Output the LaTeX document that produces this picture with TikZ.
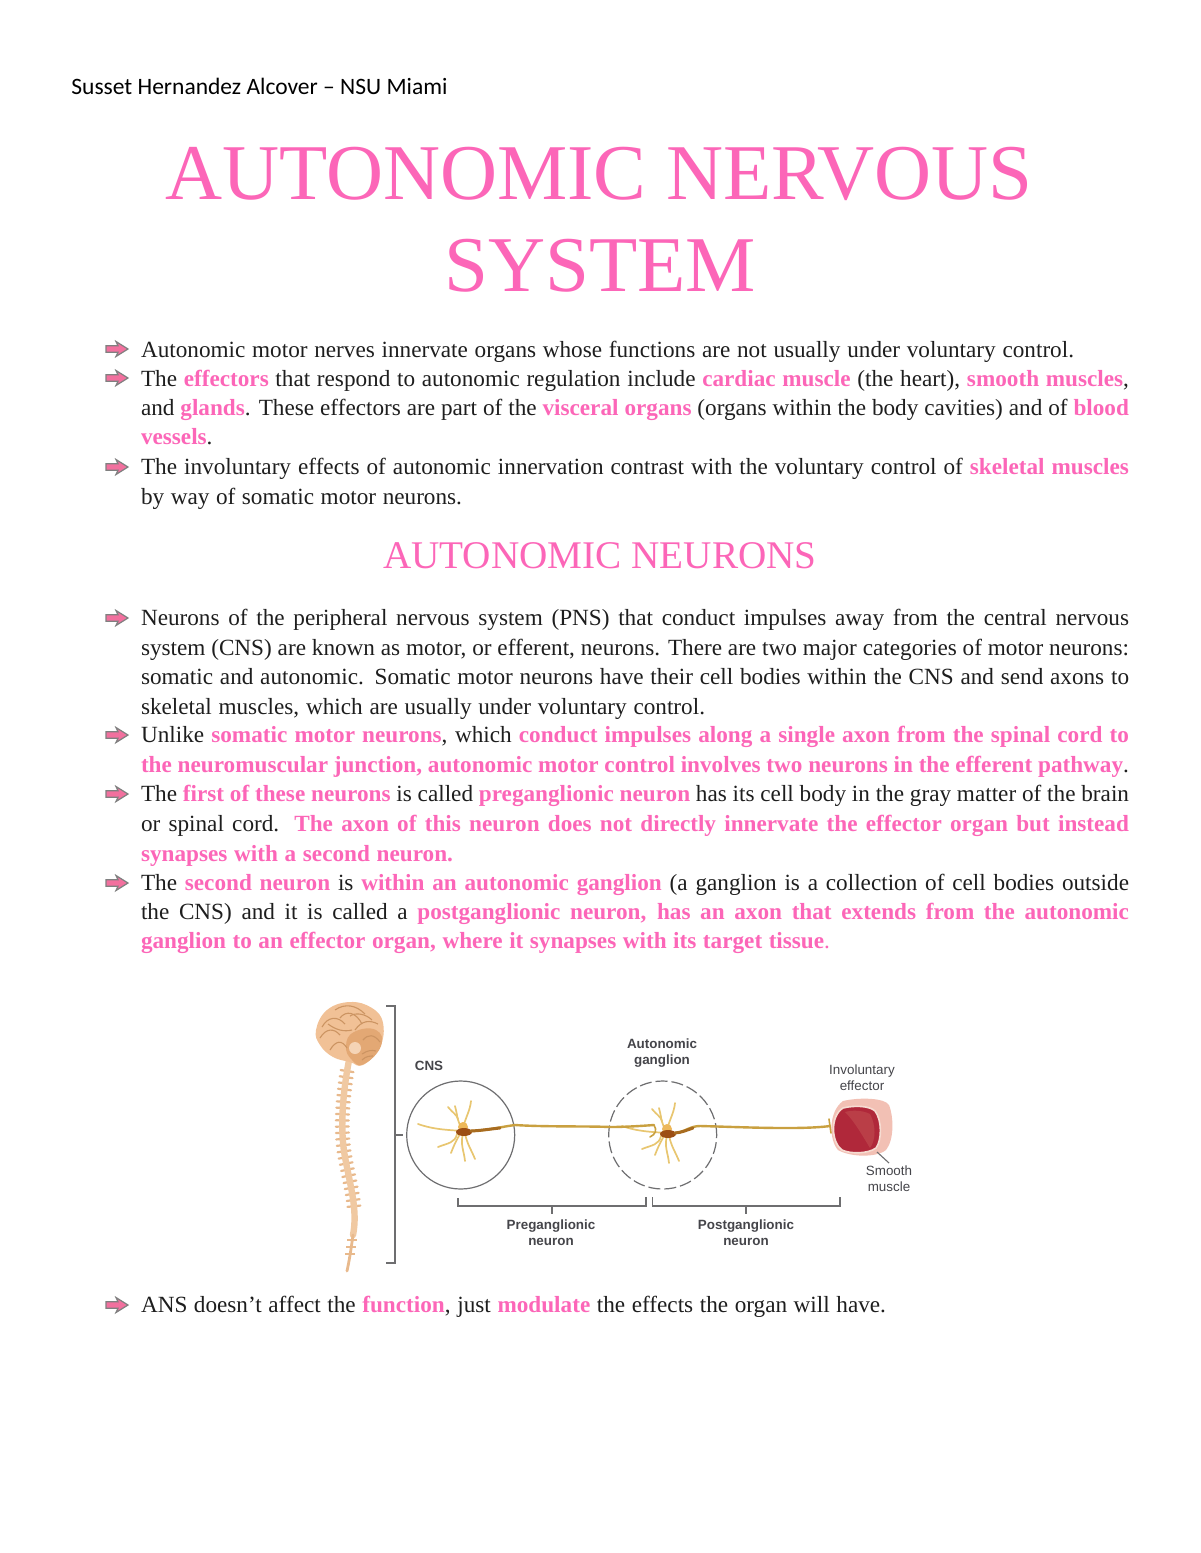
\documentclass[tikz,border=0pt]{standalone}
\usepackage{fontspec}
\setmainfont{Liberation Serif}
\newfontfamily\hdfont{Carlito}
\newfontfamily\lblfont{Liberation Sans}
\usetikzlibrary{decorations.markings}
\definecolor{pinkc}{HTML}{FC66B8}
\definecolor{bodyc}{HTML}{1E1E1E}
\definecolor{lblc}{HTML}{45454A}
\definecolor{linec}{HTML}{6E6E70}
\definecolor{axonc}{HTML}{C9A040}
\definecolor{axondark}{HTML}{A86C20}
\definecolor{dendc}{HTML}{E8C670}
\definecolor{somac}{HTML}{9C4E14}
\definecolor{brainc}{HTML}{F1C196}
\definecolor{brainlo}{HTML}{E3A874}
\definecolor{gyric}{HTML}{CC9462}
\definecolor{cordc}{HTML}{F0C9A2}
\definecolor{stubc}{HTML}{E8B98C}
\definecolor{ringc}{HTML}{F2C0B4}
\definecolor{lumenc}{HTML}{B0283A}
\definecolor{lumenhi}{HTML}{C85A58}
\definecolor{lumenedge}{HTML}{F6DCD2}
\definecolor{arrowc}{HTML}{F2709E}
\newcommand{\pk}[1]{\textcolor{pinkc}{\bfseries #1}}
\newcommand{\pn}[1]{\textcolor{pinkc}{#1}}
\newcommand{\tline}[4]{\node[textline] (#1) at (141,#2) {\makebox[\dimexpr#3pt/2\relax][s]{#4}};}
\tikzset{
  textline/.style={anchor=base west,inner sep=0pt,outer sep=0pt,text=bodyc,font=\fontsize{11.6}{14}\selectfont},
  titletext/.style={anchor=base,inner sep=0pt,text=pinkc,font=\fontsize{39.5}{46}\selectfont},
  subtitle/.style={anchor=base,inner sep=0pt,text=pinkc,font=\fontsize{19.6}{22}\selectfont},
  lbl/.style={align=center,inner sep=0pt,text=lblc,font=\lblfont\fontsize{6.7}{8}\selectfont},
  lblb/.style={lbl,font=\lblfont\bfseries\fontsize{6.7}{8}\selectfont},
  bracketline/.style={draw=linec,line width=0.55pt},
  gyrus/.style={draw=gyric,line width=0.55pt},
  axon/.style={draw=axonc,line width=1.2pt,line cap=round,line join=round},
  dendrite/.style={draw=dendc,line width=0.85pt,line cap=round},
  ringnode/.style={circle,draw=linec,line width=0.6pt,minimum size=54pt,inner sep=0pt},
  bulletarrow/.pic={
    \path[draw=black!50,line width=0.6pt,fill=arrowc]
      (-11,-3.2)--(1,-3.2)--(-1,-7.5)--(11,0)--(-1,7.5)--(1,3.2)--(-11,3.2)--cycle;
  },
  neuron/.pic={
    \draw[dendrite] (-45,-7) .. controls (-28,-1) and (-12,-1) .. (0,0);
    \draw[dendrite] (-8,-25) .. controls (-5,-14) and (-6,-8) .. (0,-2);
    \draw[dendrite] (-15,-24) .. controls (-10,-18) and (-6,-16) .. (-5,-12);
    \draw[dendrite] (8,-30) .. controls (7,-20) and (3,-15) .. (0,-3);
    \draw[dendrite] (-25,16) .. controls (-15,12) and (-8,12) .. (-6,3);
    \draw[dendrite] (-12,22) .. controls (-9,14) and (-7,10) .. (-3,3);
    \draw[dendrite] (2,30) .. controls (1,20) and (-3,13) .. (0,3);
    \draw[dendrite] (12,28) .. controls (8,18) and (5,15) .. (2,3);
    \fill[dendc!80!orange] (0,-4) circle[radius=5];
    \fill[somac] (1,1) ellipse[x radius=8,y radius=4];
  }
}
\begin{document}
\begin{tikzpicture}[x=0.5pt,y=-0.5pt]
\useasboundingbox[fill=white] (0,0) rectangle (1200,1553);
\node[anchor=base west,inner sep=0pt,text=black,font=\hdfont\fontsize{11.75}{13}\selectfont] (header) at (71,94) {Susset Hernandez Alcover – NSU Miami};
\node[titletext] (title1) at (599,199) {AUTONOMIC NERVOUS};
\node[titletext] (title2) at (600,291) {SYSTEM};
\foreach \yy in {349,378,467,618,735,794,883,1305} \pic at (117,\yy) {bulletarrow};
\tline{a1}{357}{933}{Autonomic motor nerves innervate organs whose functions are not usually under voluntary control.}
\tline{a2}{386}{988}{The \pk{effectors} that respond to autonomic regulation include \pk{cardiac muscle} (the heart), \pk{smooth muscles},}
\tline{a3}{415}{988}{and \pk{glands}. These effectors are part of the \pk{visceral organs} (organs within the body cavities) and of \pk{blood}}
\tline{a4}{444}{68}{\pk{vessels}.}
\tline{a5}{474}{988}{The involuntary effects of autonomic innervation contrast with the voluntary control of \pk{skeletal muscles}}
\tline{a6}{504}{321}{by way of somatic motor neurons.}
\node[subtitle] (sub) at (600,568) {AUTONOMIC NEURONS};
\tline{b1}{625}{988}{Neurons of the peripheral nervous system (PNS) that conduct impulses away from the central nervous}
\tline{b2}{655}{988}{system (CNS) are known as motor, or efferent, neurons. There are two major categories of motor neurons:}
\tline{b3}{684}{988}{somatic and autonomic. Somatic motor neurons have their cell bodies within the CNS and send axons to}
\tline{b4}{714}{564}{skeletal muscles, which are usually under voluntary control.}
\tline{b5}{742}{988}{Unlike \pk{somatic motor neurons}, which \pk{conduct impulses along a single axon from the spinal cord to}}
\tline{b6}{772}{988}{\pk{the neuromuscular junction, autonomic motor control involves two neurons in the efferent pathway}.}
\tline{b7}{801}{988}{The \pk{first of these neurons} is called \pk{preganglionic neuron} has its cell body in the gray matter of the brain}
\tline{b8}{831}{988}{or spinal cord. \pk{The axon of this neuron does not directly innervate the effector organ but instead}}
\tline{b9}{861}{312}{\pk{synapses with a second neuron.}}
\tline{b10}{890}{988}{The \pk{second neuron} is \pk{within an autonomic ganglion} (a ganglion is a collection of cell bodies outside}
\tline{b11}{919}{988}{the CNS) and it is called a \pk{postganglionic neuron, has an axon that extends from the autonomic}}
\tline{b12}{948}{689}{\pk{ganglion to an effector organ, where it synapses with its target tissue}\pn{.}}
\tline{c1}{1312}{745}{ANS doesn’t affect the \pk{function}, just \pk{modulate} the effects the organ will have.}

% spinal cord
\coordinate (cordtop) at (350,1055);
\coordinate (cordend) at (347,1271);
\draw[cordc,line width=3.2pt,line cap=round,
  preaction={decorate,decoration={markings,mark=between positions 0.09 and 0.86 step 3.1pt with {
     \draw[stubc,line width=1.1pt,line cap=round] (0,-6.5)--(0,6.5);}}}]
  (cordtop) .. controls (344,1085) and (339,1125) .. (345,1157)
  .. controls (350,1185) and (358,1210) .. (353,1235);
\draw[stubc,line width=1.4pt,line cap=round] (353,1235) .. controls (351,1250) and (349,1262) .. (cordend);
\foreach \yy/\xx in {1240/352,1247/351,1254/350}{\draw[stubc,line width=0.7pt] (\xx-5,\yy) -- (\xx+5,\yy);}

% brain
\fill[brainc] plot[smooth cycle,tension=0.7] coordinates {(350,1002)(372,1008)(383,1023)(380,1047)(363,1065)(350,1062)(333,1057)(320,1045)(316,1030)(327,1010)};
\fill[brainlo] plot[smooth cycle,tension=0.8] coordinates {(354,1032)(376,1030)(381,1046)(364,1064)(352,1060)(346,1046)};
\fill[brainc!70!white] (355,1048) circle[radius=6];
\draw[gyrus] (322,1027) .. controls (328,1016) and (338,1016) .. (345,1024);
\draw[gyrus] (320,1038) .. controls (326,1028) and (334,1028) .. (340,1035);
\draw[gyrus] (330,1050) .. controls (336,1040) and (342,1040) .. (347,1048);
\draw[gyrus] (335,1010) .. controls (345,1003) and (356,1005) .. (365,1014);
\draw[gyrus] (340,1018) .. controls (346,1010) and (356,1012) .. (362,1024);
\draw[gyrus] (350,1016) .. controls (356,1012) and (366,1014) .. (372,1020);
\draw[gyrus] (328,1024) .. controls (336,1030) and (344,1032) .. (352,1030);
\draw[gyrus] (355,1030) .. controls (362,1020) and (370,1020) .. (378,1024);
\draw[gyrus] (363,1040) .. controls (368,1034) and (374,1034) .. (380,1042);
\draw[gyrus] (362,1054) .. controls (368,1050) and (372,1050) .. (376,1051);
\draw[gyrus] (362,1060) .. controls (366,1056) and (370,1056) .. (373,1056);

% big bracket
\coordinate (bt) at (386,1006);
\coordinate (bb) at (386,1263);
\coordinate (bm) at (395,1135);
\coordinate (bmt) at (403,1135);
\draw[bracketline] (bt) -- (395,1006) -- (395,1263) -- (bb);
\draw[bracketline] (bm) -- (bmt);

% circles
\node[ringnode] (cns) at (460.7,1135) {};
\node[ringnode,dash pattern=on 6pt off 2pt] (gang) at (662.7,1135) {};

% neurons
\pic at (463,1131) {neuron};
\pic at (667,1133) {neuron};

% effector
\path[fill=ringc] (843,1101) .. controls (860,1097) and (885,1098) .. (889,1105)
  .. controls (894,1118) and (894,1140) .. (886,1150)
  .. controls (876,1158) and (850,1157) .. (838,1150)
  .. controls (829,1140) and (828,1112) .. (843,1101) -- cycle;
\path[fill=lumenc,draw=lumenedge,line width=0.8pt] (843,1108) .. controls (855,1105) and (870,1106) .. (875,1111)
  .. controls (882,1120) and (882,1140) .. (876,1148)
  .. controls (868,1154) and (850,1154) .. (842,1150)
  .. controls (831,1142) and (830,1116) .. (843,1108) -- cycle;
\fill[lumenhi,opacity=0.45] (845,1112) .. controls (855,1122) and (862,1135) .. (870,1148) .. controls (876,1140) and (876,1125) .. (870,1114) .. controls (862,1110) and (852,1110) .. (845,1112) -- cycle;

% axons
\draw[axon] (471,1131) .. controls (490,1130) and (500,1127) .. (515,1125)
  .. controls (545,1127) and (590,1126) .. (610,1127) .. controls (625,1127) and (640,1126) .. (654,1125);
\draw[axon,draw=axondark,line width=1.5pt] (471,1131) .. controls (482,1130.5) and (490,1129) .. (500,1128);
\draw[axon,line width=0.8pt] (654,1125) .. controls (657,1130) and (656,1134) .. (650,1137);
\draw[axon] (675,1133) .. controls (685,1132) and (690,1126) .. (700,1126)
  .. controls (740,1127) and (800,1130) .. (830,1126);
\draw[axon,draw=axondark,line width=1.5pt] (675,1133) .. controls (682,1132.5) and (687,1130) .. (693,1128);
\draw[axon,line width=0.8pt] (829,1119) -- (831,1133);

% brackets
\coordinate (p1) at (458,1198);
\coordinate (p2) at (646,1197);
\coordinate (pm) at (552,1206);
\coordinate (pt) at (552,1214);
\draw[bracketline] (p1) -- (458,1206) -- (646,1206) -- (p2);
\draw[bracketline] (pm) -- (pt);
\coordinate (q1) at (652.7,1197);
\coordinate (q2) at (840,1197);
\coordinate (qm) at (746,1206);
\coordinate (qt) at (746,1214);
\draw[bracketline] (q1) -- (652.7,1206) -- (840,1206) -- (q2);
\draw[bracketline] (qm) -- (qt);
\coordinate (sm1) at (877,1152);
\coordinate (sm2) at (889,1163);
\draw[bracketline] (sm1) -- (sm2);

% labels
\node[lblb] (lcns) at (429,1066) {CNS};
\node[lblb] (lgang) at (662,1053) {Autonomic\\ganglion};
\node[lbl] (leff) at (862,1078) {Involuntary\\effector};
\node[lbl] (lsm) at (889,1179) {Smooth\\muscle};
\node[lblb] (lpre) at (551,1233) {Preganglionic\\neuron};
\node[lblb] (lpost) at (746,1233) {Postganglionic\\neuron};
\end{tikzpicture}
\end{document}
